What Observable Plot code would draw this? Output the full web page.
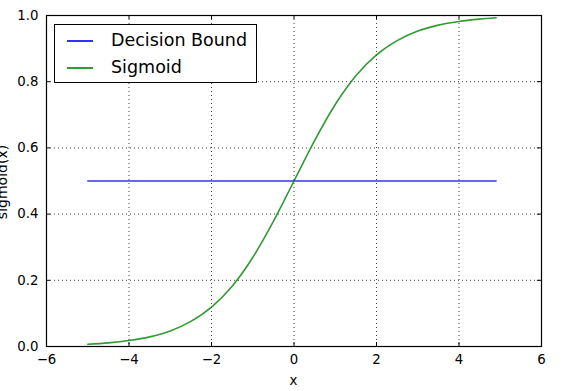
<!DOCTYPE html>
<html>
<head>
<meta charset="utf-8">
<script src="https://cdn.jsdelivr.net/npm/d3@7"></script>
<script src="https://cdn.jsdelivr.net/npm/@observablehq/plot@0.6"></script>
<style>
  html, body { margin: 0; padding: 0; background: #fff; }
  #wrap { position: relative; width: 572px; height: 391px; font-family: "DejaVu Sans", sans-serif; }
  #legend { position: absolute; left: 54px; top: 24px; width: 201px; height: 57px; border: 1.2px solid #000; background: #fff; }
  .sw { position: absolute; left: 12px; width: 26px; height: 1.5px; }
  .lb { position: absolute; left: 56px; white-space: nowrap; font-size: 17.5px; line-height: 20px; color: #000; }
</style>
</head>
<body>
<div id="wrap"></div>
<script>
// Data
const sigX = [-5, -4.5, -4, -3.5, -3, -2.5, -2, -1.5, -1, -0.5, 0, 0.5, 1, 1.5, 2, 2.5, 3, 3.5, 4, 4.5, 4.9];
const sigY = [0.007, 0.011, 0.018, 0.029, 0.047, 0.076, 0.119, 0.182, 0.269, 0.378, 0.5, 0.622, 0.731, 0.818, 0.881, 0.924, 0.953, 0.971, 0.982, 0.989, 0.993];
const boundX = [-5, 4.9];
const boundY = [0.5, 0.5];
const xTicks = [-6, -4, -2, 0, 2, 4, 6];
const yTicks = [0.0, 0.2, 0.4, 0.6, 0.8, 1.0];
const seriesNames = ["Decision Bound", "Sigmoid"];
const seriesColors = ["#0000ff", "#008000"];

const sigData = sigX.map((x, i) => ({x, y: sigY[i]}));
const boundData = boundX.map((x, i) => ({x, y: boundY[i]}));
const innerX = xTicks.slice(1, -1);
const innerY = yTicks.slice(1, -1);

const chart = Plot.plot({
  width: 572,
  height: 391,
  marginLeft: 46,
  marginRight: 31,
  marginTop: 15,
  marginBottom: 45,
  style: {fontFamily: "DejaVu Sans, sans-serif", fontSize: "13.3px", background: "#fff", color: "#000"},
  x: {domain: [-6, 6]},
  y: {domain: [0, 1]},
  marks: [
    Plot.gridX(innerX, {stroke: "#000", strokeOpacity: 0.75, strokeWidth: 1, strokeDasharray: "1,3"}),
    Plot.gridY(innerY, {stroke: "#000", strokeOpacity: 0.75, strokeWidth: 1, strokeDasharray: "1,3"}),
    Plot.line(boundData, {x: "x", y: "y", stroke: seriesColors[0], strokeWidth: 1.5, strokeOpacity: 0.8}),
    Plot.line(sigData, {x: "x", y: "y", stroke: seriesColors[1], strokeWidth: 1.6, strokeOpacity: 0.8, curve: "monotone-x"}),
    // inward ticks
    Plot.ruleX(xTicks, {x: d => d, y1: 0, y2: 0.012, stroke: "#000"}),
    Plot.ruleX(xTicks, {x: d => d, y1: 0.988, y2: 1, stroke: "#000"}),
    Plot.ruleY(yTicks, {y: d => d, x1: -6, x2: -5.9, stroke: "#000"}),
    Plot.ruleY(yTicks, {y: d => d, x1: 5.9, x2: 6, stroke: "#000"}),
    Plot.axisX(xTicks, {tickSize: 0, tickPadding: 8, fontSize: 13.3, tickFormat: d => d < 0 ? "\u2212" + Math.abs(d) : String(d), label: null}),
    Plot.axisY(yTicks, {tickSize: 0, tickPadding: 8, fontSize: 13.3, tickFormat: d => d.toFixed(1), label: null}),
    Plot.frame({stroke: "#000", strokeWidth: 1.2})
  ]
});

const wrap = document.getElementById("wrap");
wrap.appendChild(chart);

// axis titles as SVG text
const svg = d3.select(chart);
svg.append("text").attr("x", 293.5).attr("y", 385).attr("text-anchor", "middle")
  .attr("font-size", 13.3).attr("font-family", "DejaVu Sans, sans-serif").text("x");
svg.append("text").attr("transform", "translate(7,182) rotate(-90)").attr("text-anchor", "middle")
  .attr("font-size", 14).attr("font-family", "DejaVu Sans, sans-serif").text("sigmoid(x)");

// legend
const legend = document.createElement("div");
legend.id = "legend";
seriesNames.forEach((name, i) => {
  const sw = document.createElement("div");
  sw.className = "sw";
  sw.style.top = (15 + i * 27) + "px";
  sw.style.background = seriesColors[i];
  sw.style.opacity = 0.8;
  const lb = document.createElement("div");
  lb.className = "lb";
  lb.style.top = (5 + i * 27) + "px";
  lb.textContent = name;
  legend.appendChild(sw);
  legend.appendChild(lb);
});
wrap.appendChild(legend);
</script>
</body>
</html>
